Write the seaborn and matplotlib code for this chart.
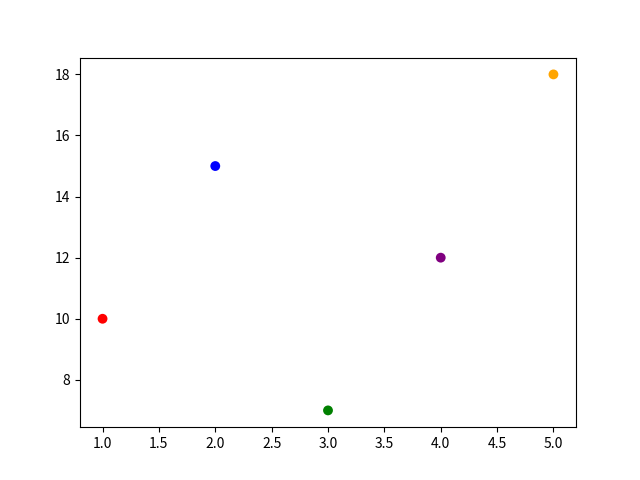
import matplotlib
matplotlib.use("Agg")
import matplotlib.pyplot as plt
import seaborn as sns
import pandas as pd

x = [1, 2, 3, 4, 5]
y = [10, 15, 7, 12, 18]
colors = ["red", "blue", "green", "purple", "orange"]

plt.rcParams['font.family'] = ['Noto Sans CJK SC', 'DejaVu Sans']

df = pd.DataFrame({"x": x, "y": y, "c": colors})
fig, ax = plt.subplots(figsize=(6.4, 4.8), dpi=100)
sns.scatterplot(data=df, x="x", y="y", hue="c", palette=dict(zip(colors, colors)),
                s=50, linewidth=0, legend=False, ax=ax)
ax.set_xlabel("")
ax.set_ylabel("")
fig.savefig("out.png", dpi=100)
